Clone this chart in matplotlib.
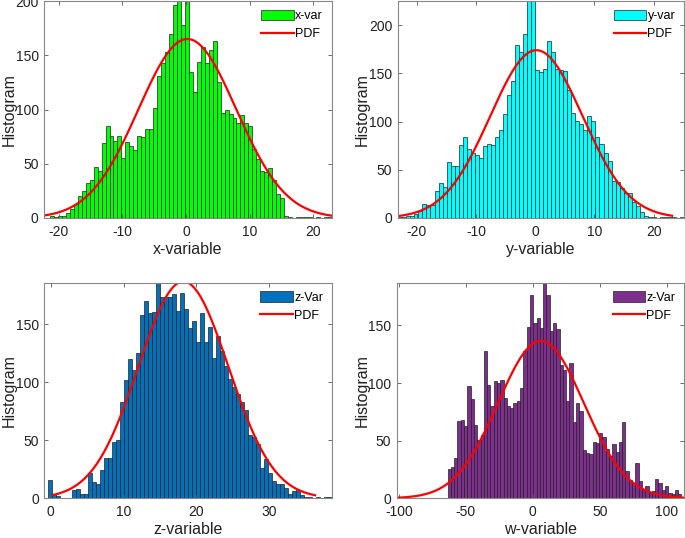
import numpy as np
import matplotlib
matplotlib.use('Agg')
import matplotlib.pyplot as plt

plt.rcParams['font.family'] = ['Liberation Sans', 'DejaVu Sans']
plt.rcParams['axes.unicode_minus'] = False

# histogram counts (71 bins each)
x_counts = [2, 1, 2, 2, 5, 8, 13, 20, 25, 32, 35, 47, 43, 69, 85, 76, 71, 76, 55, 70,
            66, 63, 76, 75, 82, 82, 101, 131, 143, 153, 170, 196, 200, 178, 200, 135, 116, 144, 158, 143,
            155, 163, 125, 97, 100, 96, 92, 88, 95, 88, 85, 64, 54, 43, 42, 46, 35, 22, 18, 2,
            1, 0, 1, 1, 1, 1, 0, 1, 0, 1, 1]
y_counts = [1, 1, 2, 2, 4, 7, 15, 13, 13, 28, 36, 32, 58, 54, 54, 76, 84, 72, 67, 65,
            62, 75, 77, 76, 84, 91, 108, 128, 142, 179, 172, 191, 225, 225, 153, 151, 154, 184, 172, 154,
            153, 152, 133, 109, 101, 97, 91, 106, 101, 84, 77, 67, 59, 38, 37, 31, 26, 26, 17, 12,
            6, 2, 1, 1, 0, 1, 1, 1, 1, 0, 1]
z_counts = [16, 4, 2, 0, 0, 0, 7, 8, 4, 4, 22, 14, 12, 24, 35, 35, 49, 50, 83, 102,
            120, 111, 125, 158, 170, 160, 161, 186, 174, 174, 174, 176, 162, 177, 163, 147, 153, 135, 160, 135,
            148, 121, 140, 127, 114, 103, 96, 90, 83, 76, 55, 53, 47, 26, 34, 22, 15, 12, 12, 9,
            4, 6, 7, 3, 1, 1, 0, 1, 0, 1, 1]
w_counts = [25, 27, 35, 67, 68, 63, 97, 86, 64, 51, 55, 128, 98, 80, 102, 100, 103, 87, 80, 78,
            83, 84, 96, 128, 149, 176, 152, 156, 148, 187, 176, 145, 152, 147, 116, 111, 84, 117, 66, 83,
            76, 42, 39, 38, 49, 48, 57, 53, 43, 37, 47, 40, 49, 66, 24, 16, 13, 31, 15, 7,
            11, 5, 6, 17, 13, 7, 11, 5, 4, 7, 4]

# data range covered by the bins
x_range = (-21.4, 22.9)
y_range = (-23.1, 25.1)
z_range = (-0.45, 38.6)
w_range = (-63.7, 111.0)

# fitted normal curves: mean, std, peak height, x span of the curve
x_fit = (0.2, 7.7, 165, -22.3, 22.9)
y_fit = (0.2, 7.8, 174, -23.2, 23.1)
z_fit = (18.2, 6.2, 187, 0.2, 36.3)
w_fit = (6.0, 32.0, 136.5, -101.7, 113.0)

legend_names = ['x-var', 'y-var', 'z-Var', 'z-Var']
x_labels = ['x-variable', 'y-variable', 'z-variable', 'w-variable']


def draw_panel(ax, counts, rng, fit, color, name, xlabel, xlim, ylim, xticks, yticks):
    n = len(counts)
    width = (rng[1] - rng[0]) / n
    edges = rng[0] + width * np.arange(n)
    bars = ax.bar(edges, counts, width=width, align='edge', color=color,
                  edgecolor='#222222', linewidth=0.5)
    mu, sigma, peak, a, b = fit
    xx = np.linspace(a, b, 200)
    line, = ax.plot(xx, peak * np.exp(-0.5 * ((xx - mu) / sigma) ** 2),
                    color='#ff0000', linewidth=1.6)
    ax.set_xlim(*xlim)
    ax.set_ylim(*ylim)
    ax.set_xticks(xticks)
    ax.set_yticks(yticks)
    ax.tick_params(direction='in', top=True, right=True, length=3, width=0.6,
                   color='#555555', labelsize=10, labelcolor='#222222')
    ax.tick_params(axis='x', pad=5)
    ax.tick_params(axis='y', pad=4)
    for sp in ax.spines.values():
        sp.set_color('#888888')
        sp.set_linewidth(0.8)
    ax.set_xlabel(xlabel, fontsize=11.5, color='#222222', labelpad=2)
    ax.set_ylabel('Histogram', fontsize=11.5, color='#222222', labelpad=-1)
    ax.legend([bars, line], [name, 'PDF'], loc='upper right', frameon=False,
              fontsize=9, handlelength=2.6, handleheight=0.9, handletextpad=0.1,
              labelspacing=0.45, borderaxespad=0.4, borderpad=0.3)


fig = plt.figure(figsize=(6.85, 5.38), dpi=100)
ax1 = fig.add_axes([0.0646, 0.5948, 0.4197, 0.4033])
ax2 = fig.add_axes([0.5806, 0.5948, 0.4179, 0.4033])
ax3 = fig.add_axes([0.0647, 0.0738, 0.4197, 0.4007])
ax4 = fig.add_axes([0.5791, 0.0738, 0.4197, 0.4007])

draw_panel(ax1, x_counts, x_range, x_fit, '#00ff00', legend_names[0], x_labels[0],
           (-22.3, 22.9), (0, 200), [-20, -10, 0, 10, 20], [0, 50, 100, 150, 200])
draw_panel(ax2, y_counts, y_range, y_fit, '#00ffff', legend_names[1], x_labels[1],
           (-23.2, 25.1), (0, 225), [-20, -10, 0, 10, 20], [0, 50, 100, 150, 200])
draw_panel(ax3, z_counts, z_range, z_fit, '#0072bd', legend_names[2], x_labels[2],
           (-0.9, 38.6), (0, 186), [0, 10, 20, 30], [0, 50, 100, 150])
draw_panel(ax4, w_counts, w_range, w_fit, '#7e2f8e', legend_names[3], x_labels[3],
           (-101.7, 113.0), (0, 187), [-100, -50, 0, 50, 100], [0, 50, 100, 150])

fig.savefig('out.png', dpi=100)
